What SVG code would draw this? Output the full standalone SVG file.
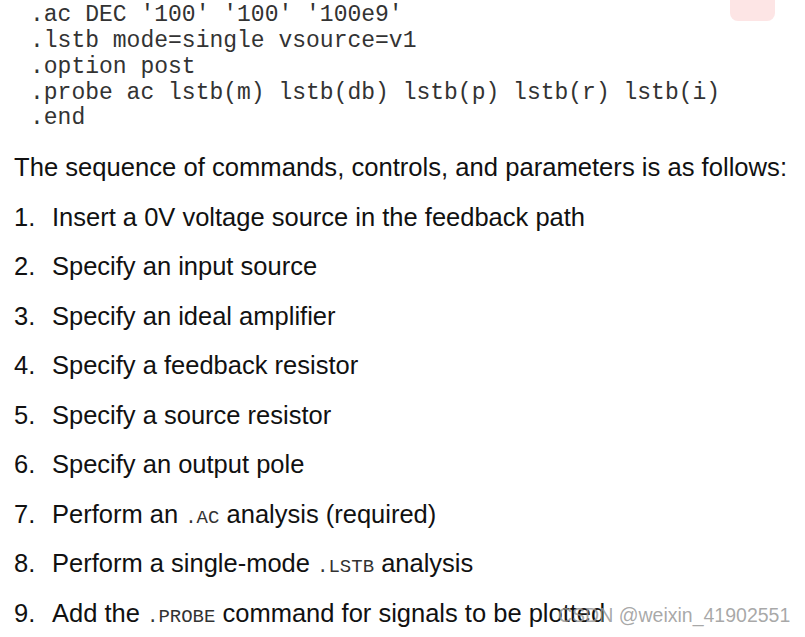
<svg xmlns="http://www.w3.org/2000/svg" width="805" height="637" viewBox="0 0 805 637">
<style>
.c{font-family:"Liberation Mono","Courier New",monospace;font-size:23px;fill:#333}
.t{font-family:"Liberation Sans",Arial,sans-serif;font-size:25.5px;fill:#111}
.m{font-family:"Liberation Mono","Courier New",monospace;font-size:19px;fill:#333}
</style>
<rect width="805" height="637" fill="#fff"/>
<rect x="730" y="-10" width="45" height="31" rx="8" fill="#fde5e5"/>
<g id="code">
<text class="c" x="30" y="21">.ac DEC '100' '100' '100e9'</text>
<text class="c" x="30" y="47">.lstb mode=single vsource=v1</text>
<text class="c" x="30" y="73">.option post</text>
<text class="c" x="30" y="99">.probe ac lstb(m) lstb(db) lstb(p) lstb(r) lstb(i)</text>
<text class="c" x="30" y="124">.end</text>
</g>
<g id="body">
<text class="t" x="14" y="176" textLength="773" lengthAdjust="spacingAndGlyphs">The sequence of commands, controls, and parameters is as follows:</text>
<text class="t" x="14" y="226">1.</text><text class="t" x="52" y="226">Insert a 0V voltage source in the feedback path</text>
<text class="t" x="14" y="275">2.</text><text class="t" x="52" y="275">Specify an input source</text>
<text class="t" x="14" y="325">3.</text><text class="t" x="52" y="325">Specify an ideal amplifier</text>
<text class="t" x="14" y="374">4.</text><text class="t" x="52" y="374">Specify a feedback resistor</text>
<text class="t" x="14" y="424">5.</text><text class="t" x="52" y="424">Specify a source resistor</text>
<text class="t" x="14" y="473">6.</text><text class="t" x="52" y="473">Specify an output pole</text>
<text class="t" x="14" y="523">7.</text><text class="t" x="52" y="523">Perform an <tspan class="m">.AC</tspan> analysis (required)</text>
<text class="t" x="14" y="572">8.</text><text class="t" x="52" y="572">Perform a single-mode <tspan class="m">.LSTB</tspan> analysis</text>
<text class="t" x="14" y="622">9.</text><text class="t" x="52" y="622">Add the <tspan class="m">.PROBE</tspan> command for signals to be plotted</text>
</g>
<text x="558" y="622" font-family="Liberation Sans,Arial,sans-serif" font-size="19.5" fill="#999" fill-opacity="0.85">CSDN @weixin_41902551</text>
</svg>
